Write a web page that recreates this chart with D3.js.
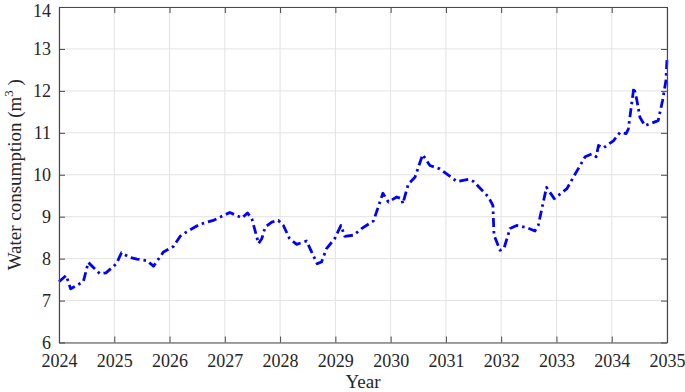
<!DOCTYPE html>
<html>
<head>
<meta charset="utf-8">
<script src="https://cdn.jsdelivr.net/npm/d3@7"></script>
<style>
html,body{margin:0;padding:0;background:#fff;}
svg{display:block;}
text{font-family:"Liberation Serif","Times New Roman",serif;fill:#262626;}
</style>
</head>
<body>
<svg id="chart" width="685" height="392"></svg>
<script>
const years = [2024.00,2024.13,2024.21,2024.44,2024.53,2024.74,2024.85,2025.04,2025.13,2025.28,2025.41,2025.59,2025.71,2025.89,2026.07,2026.19,2026.31,2026.55,2026.79,2027.09,2027.31,2027.41,2027.49,2027.61,2027.67,2027.73,2027.85,2027.97,2028.06,2028.17,2028.30,2028.48,2028.57,2028.67,2028.75,2028.84,2028.99,2029.10,2029.17,2029.33,2029.48,2029.69,2029.86,2029.96,2030.11,2030.20,2030.22,2030.32,2030.44,2030.58,2030.71,2030.89,2031.20,2031.41,2031.50,2031.77,2031.85,2031.87,2031.98,2032.05,2032.16,2032.28,2032.46,2032.61,2032.67,2032.82,2032.96,2033.19,2033.34,2033.52,2033.64,2033.72,2033.76,2033.85,2034.03,2034.15,2034.26,2034.30,2034.40,2034.45,2034.51,2034.60,2034.84,2034.92,2034.98,2035.00];
const values = [7.45,7.60,7.28,7.45,7.91,7.64,7.66,7.88,8.14,8.03,7.99,7.95,7.82,8.16,8.29,8.53,8.64,8.82,8.91,9.10,8.97,9.09,8.95,8.36,8.48,8.75,8.87,8.91,8.79,8.48,8.34,8.42,8.16,7.88,7.92,8.24,8.48,8.79,8.53,8.56,8.72,8.90,9.56,9.35,9.47,9.43,9.31,9.78,9.94,10.48,10.22,10.14,9.84,9.89,9.84,9.47,9.27,8.56,8.20,8.24,8.72,8.79,8.74,8.66,8.79,9.70,9.43,9.67,10.02,10.43,10.50,10.43,10.70,10.64,10.81,11.01,10.98,11.09,12.08,11.81,11.37,11.17,11.29,11.77,12.24,12.75];
const xTicks = [2024,2025,2026,2027,2028,2029,2030,2031,2032,2033,2034,2035];
const yTicks = [6,7,8,9,10,11,12,13,14];
const xLabel = "Year";
const yLabel = "Water consumption (m";
const yLabelSup = "3";

const svg = d3.select("#chart");
const L = 59, R = 667, T = 7, B = 342.5;
const x = d3.scaleLinear().domain([2024,2035]).range([L,R]);
const y = d3.scaleLinear().domain([6,14]).range([B,T]);

const axisColor = "#4a4a4a";
const gridColor = "#e3e3e3";

// grid
svg.append("g").selectAll("line.gx").data(xTicks).join("line")
  .attr("x1",d=>x(d)).attr("x2",d=>x(d)).attr("y1",T).attr("y2",B)
  .attr("stroke",gridColor).attr("stroke-width",1);
svg.append("g").selectAll("line.gy").data(yTicks).join("line")
  .attr("x1",L).attr("x2",R).attr("y1",d=>y(d)).attr("y2",d=>y(d))
  .attr("stroke",gridColor).attr("stroke-width",1);

// line
const line = d3.line().x((d,i)=>x(years[i])).y((d,i)=>y(values[i]));
svg.append("path").datum(values)
  .attr("d",line)
  .attr("fill","none")
  .attr("stroke","#0000ff")
  .attr("stroke-width",2.8)
  .attr("stroke-dasharray","9,4,2.5,4")
  .attr("stroke-linejoin","round");

// axes
const tl = 6;
const fs = "18px";
const xb = svg.append("g").attr("transform",`translate(0,${B})`)
  .call(d3.axisBottom(x).tickValues(xTicks).tickFormat(d3.format("d")).tickSizeInner(-tl).tickSizeOuter(0).tickPadding(12));
const xt = svg.append("g").attr("transform",`translate(0,${T})`)
  .call(d3.axisTop(x).tickValues(xTicks).tickFormat("").tickSizeInner(-tl).tickSizeOuter(0));
const yl = svg.append("g").attr("transform",`translate(${L},0)`)
  .call(d3.axisLeft(y).tickValues(yTicks).tickFormat(d3.format("d")).tickSizeInner(-tl).tickSizeOuter(0).tickPadding(8));
const yr = svg.append("g").attr("transform",`translate(${R},0)`)
  .call(d3.axisRight(y).tickValues(yTicks).tickFormat("").tickSizeInner(-tl).tickSizeOuter(0));

[xb,xt,yl,yr].forEach(g=>{
  g.select(".domain").attr("stroke",axisColor).attr("stroke-width",1.2);
  g.selectAll(".tick line").attr("stroke",axisColor).attr("stroke-width",1);
  g.selectAll("text").attr("font-family",'"Liberation Serif","Times New Roman",serif').attr("font-size",fs).attr("fill","#262626");
});
// keep the top label inside the picture
yl.selectAll(".tick text").filter(d=>d===14).attr("dy","0.5em");

// axis labels
svg.append("text").attr("x",(L+R)/2).attr("y",388).attr("text-anchor","middle")
  .attr("font-size","19px").text(xLabel);
const yt = svg.append("text").attr("transform",`translate(21,${(T+B)/2}) rotate(-90)`)
  .attr("text-anchor","middle").attr("font-size","19px");
yt.append("tspan").text(yLabel);
yt.append("tspan").attr("dy",-8).attr("font-size","13px").text(yLabelSup);
yt.append("tspan").attr("dy",8).text(" )");
</script>
</body>
</html>
